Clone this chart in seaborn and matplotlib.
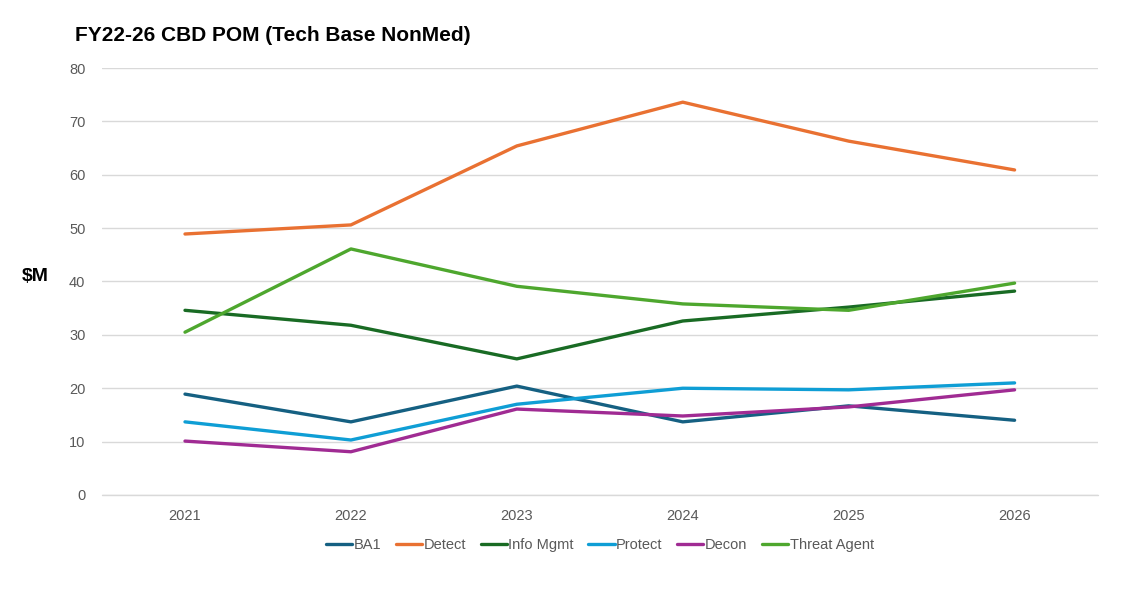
import matplotlib
matplotlib.use("Agg")
import matplotlib.pyplot as plt
import seaborn as sns
import pandas as pd

years = ["2021", "2022", "2023", "2024", "2025", "2026"]
ba1 = [18.9, 13.7, 20.4, 13.7, 16.7, 14.0]
detect = [48.9, 50.6, 65.4, 73.6, 66.3, 60.9]
info_mgmt = [34.6, 31.8, 25.5, 32.6, 35.2, 38.2]
protect = [13.7, 10.3, 17.0, 20.0, 19.7, 21.0]
decon = [10.1, 8.1, 16.1, 14.8, 16.5, 19.7]
threat_agent = [30.5, 46.1, 39.1, 35.8, 34.6, 39.7]

series = {
    "BA1": ba1,
    "Detect": detect,
    "Info Mgmt": info_mgmt,
    "Protect": protect,
    "Decon": decon,
    "Threat Agent": threat_agent,
}
colors = ["#156082", "#E97132", "#196B24", "#0F9ED5", "#A02B93", "#4EA72E"]

rows = []
for name, vals in series.items():
    for y, v in zip(years, vals):
        rows.append({"year": y, "value": v, "series": name})
df = pd.DataFrame(rows)

sns.set_style("white")
plt.rcParams["font.family"] = ["Liberation Sans", "DejaVu Sans"]

fig = plt.figure(figsize=(11.35, 5.94), dpi=100)
ax = fig.add_axes([0.0899, 0.1667, 0.8771, 0.7188])

sns.lineplot(data=df, x="year", y="value", hue="series",
             palette=colors, linewidth=2.4, ax=ax, sort=False)

ax.set_xlim(-0.5, 5.5)
ax.set_ylim(0, 80)
ax.set_yticks(range(0, 81, 10))
ax.grid(axis="y", color="#D9D9D9", linewidth=1)
ax.axhline(0, color="#D9D9D9", linewidth=1, clip_on=False, zorder=0)
ax.set_axisbelow(True)
for s in ax.spines.values():
    s.set_visible(False)
ax.tick_params(axis="both", length=0, labelsize=10.5, colors="#595959", pad=12)
ax.tick_params(axis="x", pad=10)
ax.set_xlabel("")
ax.set_ylabel("")

fig.text(0.066, 0.94, "FY22-26 CBD POM (Tech Base NonMed)", fontsize=15,
         fontweight="bold", va="center", ha="left", color="black")
fig.text(0.019, 0.535, "$M", fontsize=14, fontweight="bold", va="center",
         ha="left", color="black")

ax.legend(loc="upper center", bbox_to_anchor=(0.5, -0.07), ncol=6, frameon=False,
          fontsize=10.5, handlelength=1.8, handletextpad=0.1, columnspacing=1.0,
          labelcolor="#595959")

fig.savefig("out.png", dpi=100)
